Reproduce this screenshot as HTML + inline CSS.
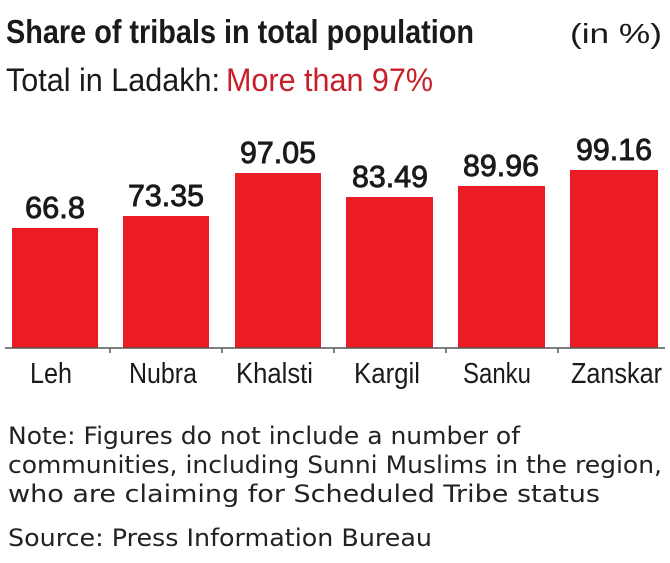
<!DOCTYPE html>
<html><head><style>body{margin:0;background:#fff}svg{display:block}</style></head><body>
<svg width="670" height="563" viewBox="0 0 670 563" xmlns="http://www.w3.org/2000/svg" font-family="Liberation Sans, sans-serif">
<text x="6" y="43" font-size="33" font-weight="bold" fill="#1a1a1a" textLength="468" lengthAdjust="spacingAndGlyphs">Share of tribals in total population</text>
<text x="570" y="43" font-size="28" fill="#1a1a1a" textLength="92" lengthAdjust="spacingAndGlyphs">(in %)</text>
<text x="6" y="91" font-size="32" fill="#1a1a1a" textLength="214" lengthAdjust="spacingAndGlyphs">Total in Ladakh:</text>
<text x="226" y="91" font-size="32" fill="#c8202a" textLength="207" lengthAdjust="spacingAndGlyphs">More than 97%</text>
<g fill="#ec1c24">
<rect x="12" y="228" width="86" height="120"/>
<rect x="123" y="216" width="86" height="132"/>
<rect x="235" y="173" width="86" height="175"/>
<rect x="346" y="197" width="87" height="151"/>
<rect x="458" y="186" width="87" height="162"/>
<rect x="570" y="170" width="88" height="178"/>
</g>
<line x1="5" y1="348" x2="665" y2="348" stroke="#555" stroke-width="1.5"/>
<g stroke="#555" stroke-width="1.5"><line x1="110" y1="348" x2="110" y2="353"/><line x1="222" y1="348" x2="222" y2="353"/><line x1="334" y1="348" x2="334" y2="353"/><line x1="446" y1="348" x2="446" y2="353"/><line x1="558" y1="348" x2="558" y2="353"/></g>
<g font-size="31" fill="#1a1a1a" stroke="#1a1a1a" stroke-width="0.9">
<text x="25" y="218" textLength="60" lengthAdjust="spacingAndGlyphs">66.8</text>
<text x="128" y="206" textLength="76" lengthAdjust="spacingAndGlyphs">73.35</text>
<text x="240" y="163" textLength="76" lengthAdjust="spacingAndGlyphs">97.05</text>
<text x="352" y="187" textLength="76" lengthAdjust="spacingAndGlyphs">83.49</text>
<text x="463" y="176" textLength="76" lengthAdjust="spacingAndGlyphs">89.96</text>
<text x="576" y="160" textLength="76" lengthAdjust="spacingAndGlyphs">99.16</text>
</g>
<g font-size="29" fill="#1a1a1a">
<text x="30" y="383" textLength="42" lengthAdjust="spacingAndGlyphs">Leh</text>
<text x="129" y="383" textLength="68" lengthAdjust="spacingAndGlyphs">Nubra</text>
<text x="236" y="383" textLength="77" lengthAdjust="spacingAndGlyphs">Khalsti</text>
<text x="354" y="383" textLength="66" lengthAdjust="spacingAndGlyphs">Kargil</text>
<text x="463" y="383" textLength="68" lengthAdjust="spacingAndGlyphs">Sanku</text>
<text x="571" y="383" textLength="91" lengthAdjust="spacingAndGlyphs">Zanskar</text>
</g>
<g font-size="24" fill="#222" font-family="DejaVu Sans, sans-serif">
<text x="8" y="444" textLength="512" lengthAdjust="spacingAndGlyphs">Note: Figures do not include a number of</text>
<text x="8" y="473" textLength="654" lengthAdjust="spacingAndGlyphs">communities, including Sunni Muslims in the region,</text>
<text x="8" y="502" textLength="592" lengthAdjust="spacingAndGlyphs">who are claiming for Scheduled Tribe status</text>
<text x="8" y="546" textLength="424" lengthAdjust="spacingAndGlyphs">Source: Press Information Bureau</text>
</g>
</svg>
</body></html>
